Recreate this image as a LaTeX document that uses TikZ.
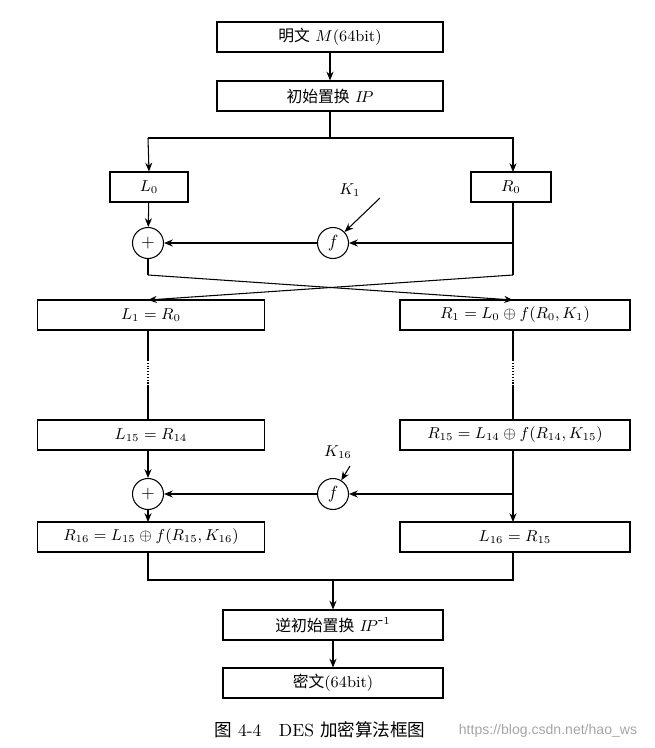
\documentclass[tikz,border=0pt]{standalone}
\usepackage{fontspec}
\newfontfamily\cjk{Noto Sans CJK SC}
\newfontfamily\wm{Liberation Sans}
\usetikzlibrary{arrows.meta}
\begin{document}
\begin{tikzpicture}[x=0.02cm,y=-0.02cm,
 box/.style={draw,minimum width=#1*0.02cm,minimum height=0.6cm,inner sep=0pt,font=\small},
 circ/.style={draw,circle,minimum size=0.62cm,inner sep=0pt},
 ar/.style={-{Stealth[length=5pt,width=4pt]}},
 line width=0.6pt]
\useasboundingbox[fill=white] (0,0) rectangle (655,748);
\node[box=226] (m) at (330,37) {{\cjk 明文} $M$(64bit)};
\node[box=226] (ip) at (330,96) {{\cjk 初始置换} $I\!P$};
\node[box=78] (l0) at (149,187) {$L_0$};
\node[box=80] (r0) at (511,187) {$R_0$};
\node[circ] (p1) at (148,243) {$+$};
\node[circ] (f1) at (333,243) {$f$};
\node[font=\small] (k1) at (350,190) {$K_1$};
\coordinate (k1s) at (380,198);
\node[box=227] (l1) at (151,315) {$L_1=R_0$};
\node[box=230] (r1) at (515,315) {$R_1=L_0\oplus f(R_0,K_1)$};
\node[box=227] (l15) at (151,435) {$L_{15}=R_{14}$};
\node[box=230] (r15) at (515,435) {$R_{15}=L_{14}\oplus f(R_{14},K_{15})$};
\node[circ] (p2) at (148,494) {$+$};
\node[circ] (f2) at (333,494) {$f$};
\node[font=\small] (k16) at (338,452) {$K_{16}$};
\coordinate (k16s) at (350,466);
\node[box=227] (r16) at (151,537) {$R_{16}=L_{15}\oplus f(R_{15},K_{16})$};
\node[box=230] (l16) at (515,537) {$L_{16}=R_{15}$};
\node[box=220] (ipi) at (333,625) {{\cjk 逆初始置换} $I\!P^{\mbox{-}1}$};
\node[box=220] (c) at (333,683) {{\cjk 密文}(64bit)};
\node (cap) at (320,730) {{\cjk 图} 4-4\quad DES {\cjk 加密算法框图}};
\node[text=gray!70,font=\wm\footnotesize] at (548,731) {https://blog.csdn.net/hao\_ws};
% connectors
\draw[ar] (m) -- (ip);
\draw (ip.south) -- (330,138);
\draw[ar] (148,138) -- (l0.north);
\draw[ar] (148,138) -- (513,138) -- (513,172);
\draw[ar] (l0) -- (p1);
\draw[ar] (k1s) -- (f1);
\draw (513,202) -- (513,275);
\draw[ar] (513,243) -- (f1);
\draw[ar] (f1) -- (p1);
\draw (p1.south) -- (148,275);
\draw[ar] (148,275) -- (513,300);
\draw[ar] (513,275) -- (148,300);
\draw (148,330) -- (148,360) (148,385) -- (148,420);
\draw[densely dotted] (148,360) -- (148,385);
\draw (513,330) -- (513,360) (513,385) -- (513,420);
\draw[densely dotted] (513,360) -- (513,385);
\draw[ar] (148,450) -- (p2);
\draw[ar] (p2) -- (148,522);
\draw[ar] (513,450) -- (513,522);
\draw[ar] (513,494) -- (f2);
\draw[ar] (f2) -- (p2);
\draw[ar] (k16s) -- (f2);
\draw (148,552) -- (148,580) -- (513,580) -- (513,552);
\draw[ar] (333,580) -- (ipi);
\draw[ar] (ipi) -- (c);
\end{tikzpicture}
\end{document}
